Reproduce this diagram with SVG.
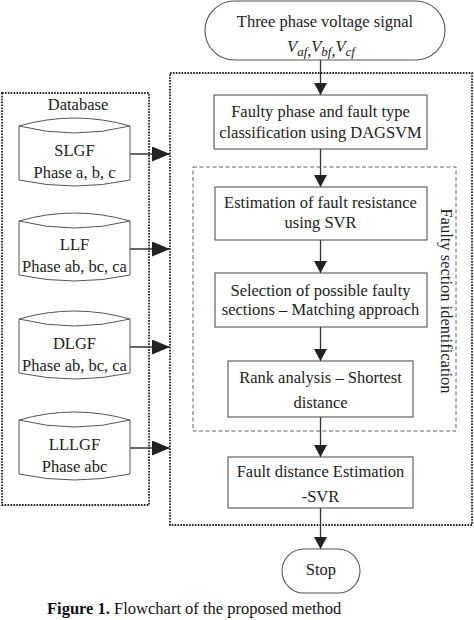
<svg xmlns="http://www.w3.org/2000/svg" width="474" height="620" viewBox="0 0 474 620">
<defs>
<style>
text{font-family:"Liberation Serif","Times New Roman",serif;fill:#222;font-size:16.5px;text-anchor:middle}
.box{fill:#fff;stroke:#555;stroke-width:1.1}
.cyl{fill:#fff;stroke:#555;stroke-width:1}
.dot{fill:none;stroke:#222;stroke-width:1.8;stroke-dasharray:1.6 1.3}
.dash{fill:none;stroke:#666;stroke-width:1;stroke-dasharray:4 2.5}
.con{fill:none;stroke:#333;stroke-width:1.3}
</style>
<marker id="ah" markerUnits="userSpaceOnUse" markerWidth="13" markerHeight="13" refX="12" refY="6.5" orient="auto">
<path d="M0,0 L12,6.5 L0,13 z" fill="#222"/>
</marker>
<marker id="ahL" markerUnits="userSpaceOnUse" markerWidth="18" markerHeight="15" refX="18" refY="7.5" orient="auto">
<path d="M0,0 L18,7.5 L0,15 z" fill="#222"/>
</marker>
<path id="cylShape" d="M19,0 Q74.5,-16 130,0 L130,54 Q74.5,66 19,54 Z M19,0 Q74.5,14 130,0"/>
</defs>

<rect width="474" height="620" fill="#fff"/>

<g id="containers">
<rect id="mainBox" class="dot" x="170" y="73" width="302" height="452"/>
<rect id="databaseBox" class="dot" x="2" y="93" width="147" height="412"/>
<rect id="faultySectionBox" class="dash" x="193" y="167" width="263" height="264"/>
<text x="78" y="110">Database</text>
<text transform="translate(441,301) rotate(90)">Faulty section identification</text>
</g>

<g id="connectors">
<line class="con" x1="320.5" y1="60" x2="320.5" y2="95" marker-end="url(#ah)"/>
<line class="con" x1="320.5" y1="149" x2="320.5" y2="187" marker-end="url(#ah)"/>
<line class="con" x1="320.5" y1="240" x2="320.5" y2="273" marker-end="url(#ah)"/>
<line class="con" x1="320.5" y1="327" x2="320.5" y2="361" marker-end="url(#ah)"/>
<line class="con" x1="320.5" y1="417" x2="320.5" y2="457" marker-end="url(#ah)"/>
<line class="con" x1="320.5" y1="508" x2="320.5" y2="549" marker-end="url(#ah)"/>
<line class="con" x1="130" y1="154" x2="170" y2="154" marker-end="url(#ahL)"/>
<line class="con" x1="130" y1="249" x2="170" y2="249" marker-end="url(#ahL)"/>
<line class="con" x1="130" y1="347" x2="170" y2="347" marker-end="url(#ahL)"/>
<line class="con" x1="130" y1="448" x2="170" y2="448" marker-end="url(#ahL)"/>
</g>

<g id="start">
<rect class="box" x="205" y="1" width="240" height="59" rx="29.5"/>
<text x="325" y="27">Three phase voltage signal</text>
<text x="321" y="52" font-style="italic" font-size="22"><tspan>V</tspan><tspan font-size="13" dy="4">af</tspan><tspan font-size="16" font-style="normal">,</tspan><tspan dy="-4">V</tspan><tspan font-size="13" dy="4">bf</tspan><tspan font-size="16" font-style="normal">,</tspan><tspan dy="-4">V</tspan><tspan font-size="13" dy="4">cf</tspan></text>
</g>

<g id="slgf">
<use href="#cylShape" class="cyl" transform="translate(0,126)"/>
<text x="74.5" y="156">SLGF</text>
<text x="74.5" y="178">Phase a, b, c</text>
</g>
<g id="llf">
<use href="#cylShape" class="cyl" transform="translate(0,221)"/>
<text x="74.5" y="250">LLF</text>
<text x="74.5" y="272">Phase ab, bc, ca</text>
</g>
<g id="dlgf">
<use href="#cylShape" class="cyl" transform="translate(0,319)"/>
<text x="74.5" y="349">DLGF</text>
<text x="74.5" y="371">Phase ab, bc, ca</text>
</g>
<g id="lllgf">
<use href="#cylShape" class="cyl" transform="translate(0,420)"/>
<text x="74.5" y="450">LLLGF</text>
<text x="74.5" y="472">Phase abc</text>
</g>

<g id="classification">
<rect class="box" x="214" y="95" width="213" height="54"/>
<text x="320.5" y="117">Faulty phase and fault type</text>
<text x="320.5" y="138">classification using DAGSVM</text>
</g>
<g id="resistance">
<rect class="box" x="215" y="187" width="212" height="53"/>
<text x="320.5" y="208">Estimation of fault resistance</text>
<text x="320.5" y="228">using SVR</text>
</g>
<g id="selection">
<rect class="box" x="215" y="273" width="212" height="54"/>
<text x="320.5" y="296">Selection of possible faulty</text>
<text x="320.5" y="315">sections – Matching approach</text>
</g>
<g id="rank">
<rect class="box" x="228" y="361" width="185" height="56"/>
<text x="320.5" y="383">Rank analysis – Shortest</text>
<text x="320.5" y="408">distance</text>
</g>
<g id="distance">
<rect class="box" x="228" y="457" width="185" height="51"/>
<text x="320.5" y="477">Fault distance Estimation</text>
<text x="320.5" y="502">-SVR</text>
</g>
<g id="stop">
<rect class="box" x="282" y="549" width="78" height="44" rx="22"/>
<text x="321" y="575">Stop</text>
</g>

<text id="caption" x="47" y="614" font-size="22" style="text-anchor:start;fill:#111"><tspan font-weight="bold">Figure 1.</tspan> Flowchart of the proposed method</text>
</svg>
